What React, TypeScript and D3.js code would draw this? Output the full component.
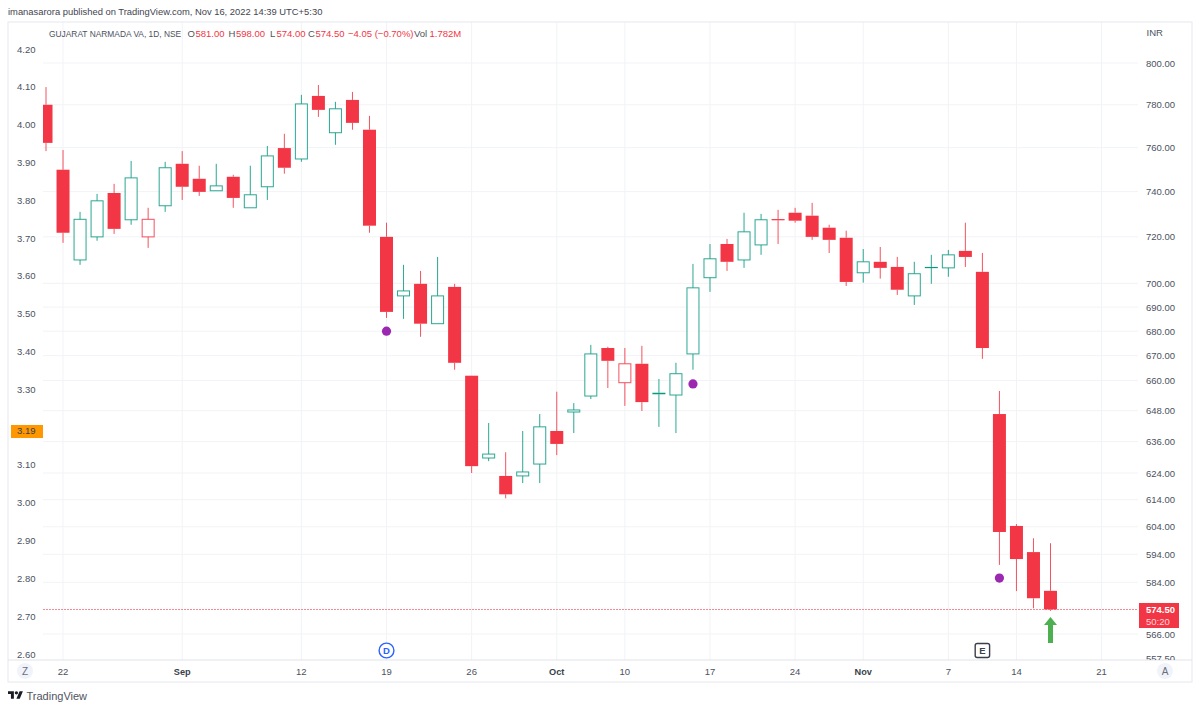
import React from "react";
import * as d3 from "d3";

const opens = [780.0,749.9,710.0,720.0,739.4,727.5,720.0,733.7,752.6,745.8,740.4,746.7,732.8,742.2,759.8,754.8,784.2,766.9,782.3,768.3,720.0,694.7,699.8,683.1,698.5,661.9,629.7,622.9,622.9,627.4,640.1,647.5,653.8,673.1,659.1,666.7,655.1,654.2,670.7,702.4,716.9,710.0,716.5,727.8,730.6,729.3,724.0,719.6,704.5,709.2,707.0,694.7,707.0,706.6,713.9,704.9,646.7,604.3,594.8,581.0];
const highs = [788.4,758.9,731.0,739.0,743.5,753.9,732.8,753.5,758.4,751.7,752.6,747.6,751.7,760.8,766.4,784.7,789.4,781.4,786.1,774.8,726.2,707.9,705.3,711.3,699.8,661.9,643.2,631.9,640.1,646.7,655.5,651.0,674.4,673.6,673.1,674.0,660.6,667.1,708.3,716.9,719.1,730.6,730.1,731.9,732.8,735.0,725.3,722.7,714.7,715.6,711.3,709.2,712.2,714.3,726.2,713.0,655.8,605.0,599.8,598.0];
const lows = [758.4,717.4,707.9,718.3,721.3,725.3,715.2,731.0,736.3,738.1,740.4,732.8,732.8,736.3,748.1,753.5,774.3,761.3,768.3,721.8,685.5,685.1,677.7,683.1,664.3,624.0,628.5,614.5,620.2,620.2,630.8,639.3,652.6,657.0,649.9,647.9,641.7,639.3,664.3,696.4,705.3,706.6,712.2,716.9,726.2,718.7,713.0,698.9,700.3,702.0,695.1,690.9,699.8,702.8,707.0,668.7,590.2,580.9,574.9,574.0];
const closes = [762.2,721.8,727.7,735.9,723.5,746.2,727.7,750.8,742.2,739.9,742.6,737.2,738.6,756.2,750.8,780.4,777.6,778.1,771.5,724.9,688.0,696.8,683.1,694.7,667.1,626.6,631.2,616.0,624.4,641.7,635.1,648.3,670.7,667.9,666.7,651.4,654.5,662.7,698.1,710.5,709.2,722.2,727.5,727.3,727.1,720.0,718.7,700.6,709.2,706.6,697.3,704.1,706.6,712.2,711.3,673.1,602.1,592.3,578.4,574.5];

const rightTicks = [800,780,760,740,720,700,690,680,670,660,648,636,624,614,604,594,584,566];
const clippedRightTick = 557.5;
const leftTicks = [4.2,4.1,4.0,3.9,3.8,3.7,3.6,3.5,3.4,3.3,3.1,3.0,2.9,2.8,2.7,2.6];
const timeTickIndex = [1,8,15,20,25,30,34,39,44,48,53,57,62];
const timeTickLabel = ["22","Sep","12","19","26","Oct","10","17","24","Nov","7","14","21"];
const monthLabels = ["Sep","Oct","Nov"];
const dotIndex = [20,38,56];
const dotPrice = [680,658.6,585.5];
const lastPrice = 574.5;
const arrowIndex = 59;
const dividendIndex = 20;
const earningsIndex = 55;
const legendName = "GUJARAT NARMADA VA, 1D, NSE";
const legendParts: [string, string, number][] = [
  ["O","#4c525e",187.5],["581.00","#F23645",195.5],
  ["H","#4c525e",228.5],["598.00","#F23645",236],
  ["L","#4c525e",270],["574.00","#F23645",276.5],
  ["C","#4c525e",308],["574.50","#F23645",315.5],
  ["−4.05 (−0.70%)","#F23645",348],
  ["Vol","#4c525e",414],["1.782M","#F23645",429.5],
];

const FONT = "'Liberation Sans', Arial, sans-serif";
const UP = "#089981";
const DOWN = "#F23645";
const GRID = "#f2f3f6";
const TEXT = "#4c525e";
const L = 43, R = 1138, T = 22, B = 660;
const FS = 9.5;

export default function App() {
  const x = d3.scaleLinear().domain([0, 59]).range([46, 1050.5]);
  const y = d3.scaleLog().domain([800, 566]).range([63, 634]);
  const yLeft = d3.scaleLinear().domain([4.2, 2.6]).range([49, 654]);
  const bw = 13;

  const ax = x(arrowIndex);
  const ay = y(lastPrice) + 7.5;
  const arrow = d3.path();
  arrow.moveTo(ax, ay);
  arrow.lineTo(ax + 6.5, ay + 8);
  arrow.lineTo(ax + 2.5, ay + 8);
  arrow.lineTo(ax + 2.5, ay + 26);
  arrow.lineTo(ax - 2.5, ay + 26);
  arrow.lineTo(ax - 2.5, ay + 8);
  arrow.lineTo(ax - 6.5, ay + 8);
  arrow.closePath();
  const lastY = Math.round(y(lastPrice)) + 0.5;

  return (
    <div style={{ position: "absolute", left: 0, top: 0 }}>
      <svg width={1200} height={710} style={{ display: "block", fontFamily: FONT }}>
        <defs>
          <clipPath id="plot"><rect x={L} y={T} width={R - L} height={B - T} /></clipPath>
          <clipPath id="axisClip"><rect x={R} y={T} width={1192 - R} height={B - T} /></clipPath>
        </defs>
        <rect width={1200} height={710} fill="#fff" />
        <text x={8} y={15} fontSize={9.4} fill="#3f4450">imanasarora published on TradingView.com, Nov 16, 2022 14:39 UTC+5:30</text>

        {/* grid */}
        {rightTicks.map((t) => (
          <line key={t} x1={L} x2={R} y1={y(t)} y2={y(t)} stroke={GRID} strokeWidth={1} />
        ))}
        {timeTickIndex.map((i) => (
          <line key={i} x1={x(i)} x2={x(i)} y1={T} y2={B} stroke={GRID} strokeWidth={1} />
        ))}

        {/* frame */}
        <rect x={8} y={22} width={1184} height={660} fill="none" stroke="#e9ebf1" strokeWidth={1.2} />
        <line x1={8} x2={1192} y1={B} y2={B} stroke="#e0e3eb" strokeWidth={1} />

        {/* last price dotted line */}
        <line x1={L} x2={R} y1={lastY} y2={lastY} stroke="#f58a94" strokeWidth={1} strokeDasharray="2 1" />

        {/* candles */}
        <g clipPath="url(#plot)">
          {opens.map((o, i) => {
            const c = closes[i];
            const up = i === 0 ? c >= o : c >= closes[i - 1];
            const col = up ? UP : DOWN;
            const filled = c < o;
            const cx = x(i);
            const top = y(Math.max(o, c));
            const bot = y(Math.min(o, c));
            return (
              <g key={i}>
                <line x1={cx} x2={cx} y1={y(highs[i])} y2={top} stroke={col} strokeWidth={1} opacity={0.85} />
                <line x1={cx} x2={cx} y1={bot} y2={y(lows[i])} stroke={col} strokeWidth={1} opacity={0.85} />
                {filled ? (
                  <rect x={cx - bw / 2} y={top} width={bw} height={Math.max(bot - top, 1.2)} fill={col} />
                ) : (
                  <rect x={cx - bw / 2 + 0.5} y={top} width={bw - 1} height={Math.max(bot - top, 1)} fill="#fff" stroke={col} strokeWidth={1} opacity={0.85} />
                )}
              </g>
            );
          })}
        </g>

        {/* event markers */}
        {dotIndex.map((i, k) => (
          <circle key={i} cx={x(i)} cy={y(dotPrice[k])} r={4.6} fill="#9C27B0" />
        ))}
        <path d={arrow.toString()} fill="#4CAF50" />
        <circle cx={x(dividendIndex)} cy={650.5} r={7.4} fill="#fff" stroke="#2962FF" strokeWidth={1.4} />
        <text x={x(dividendIndex)} y={654} fontSize={9.5} fontWeight={700} fill="#2962FF" textAnchor="middle">D</text>
        <rect x={x(earningsIndex) - 7.2} y={643.5} width={14.4} height={14} rx={2} fill="#fff" stroke="#3a3f4b" strokeWidth={1.4} />
        <text x={x(earningsIndex)} y={654} fontSize={9.5} fontWeight={700} fill="#3a3f4b" textAnchor="middle">E</text>

        {/* legend */}
        <text x={49} y={36.5} fontSize={8.4} fill={TEXT}>{legendName}</text>
        {legendParts.map(([s, col, px], i) => (
          <text key={i} x={px} y={36.5} fontSize={FS} fill={col}>{s}</text>
        ))}

        {/* left scale */}
        {leftTicks.map((t) => (
          <text key={t} x={17} y={yLeft(t) + 3.5} fontSize={FS} fill={TEXT}>{t.toFixed(2)}</text>
        ))}
        <rect x={11} y={425} width={32} height={13} fill="#FF9800" />
        <text x={17} y={yLeft(3.19) + 3.5} fontSize={FS} fill="#3a3f4b">3.19</text>

        {/* right scale */}
        <text x={1146.5} y={35.5} fontSize={FS} fill={TEXT}>INR</text>
        {rightTicks.map((t) => (
          <text key={t} x={1146} y={y(t) + 3.5} fontSize={FS} fill={TEXT}>{t.toFixed(2)}</text>
        ))}
        <g clipPath="url(#axisClip)">
          <text x={1146} y={y(clippedRightTick) + 3.5} fontSize={FS} fill={TEXT}>{clippedRightTick.toFixed(2)}</text>
        </g>
        <rect x={1139} y={603} width={40} height={25} fill={DOWN} />
        <text x={1146} y={y(lastPrice) + 3.4} fontSize={FS} fontWeight={700} fill="#fff">{lastPrice.toFixed(2)}</text>
        <text x={1146} y={624.5} fontSize={FS} fill="#ffd3d7">50:20</text>

        {/* time axis */}
        {timeTickIndex.map((i, k) => (
          <text
            key={i}
            x={x(i)}
            y={674.5}
            fontSize={monthLabels.includes(timeTickLabel[k]) ? 9.2 : FS}
            textAnchor="middle"
            fontWeight={monthLabels.includes(timeTickLabel[k]) ? 700 : 400}
            fill={monthLabels.includes(timeTickLabel[k]) ? "#3a3f4b" : TEXT}
          >
            {timeTickLabel[k]}
          </text>
        ))}
        <circle cx={25} cy={671} r={8} fill="#f0f3fa" />
        <text x={25} y={674.5} fontSize={10} fill="#6a6f7b" textAnchor="middle">Z</text>
        <circle cx={1165} cy={671} r={8} fill="#f0f3fa" />
        <text x={1165} y={674.5} fontSize={10} fill="#6a6f7b" textAnchor="middle">A</text>

        {/* brand */}
        <g transform="translate(8,689.5) scale(0.42)">
          <path d="M14 22H7V11H0V4h14v18zM28 22h-8l7.5-18h8L28 22z" fill="#1a1d26" />
          <circle cx={20} cy={8} r={4} fill="#1a1d26" />
        </g>
        <text x={26.5} y={700} fontSize={11} fill="#50535e">TradingView</text>
      </svg>
    </div>
  );
}
